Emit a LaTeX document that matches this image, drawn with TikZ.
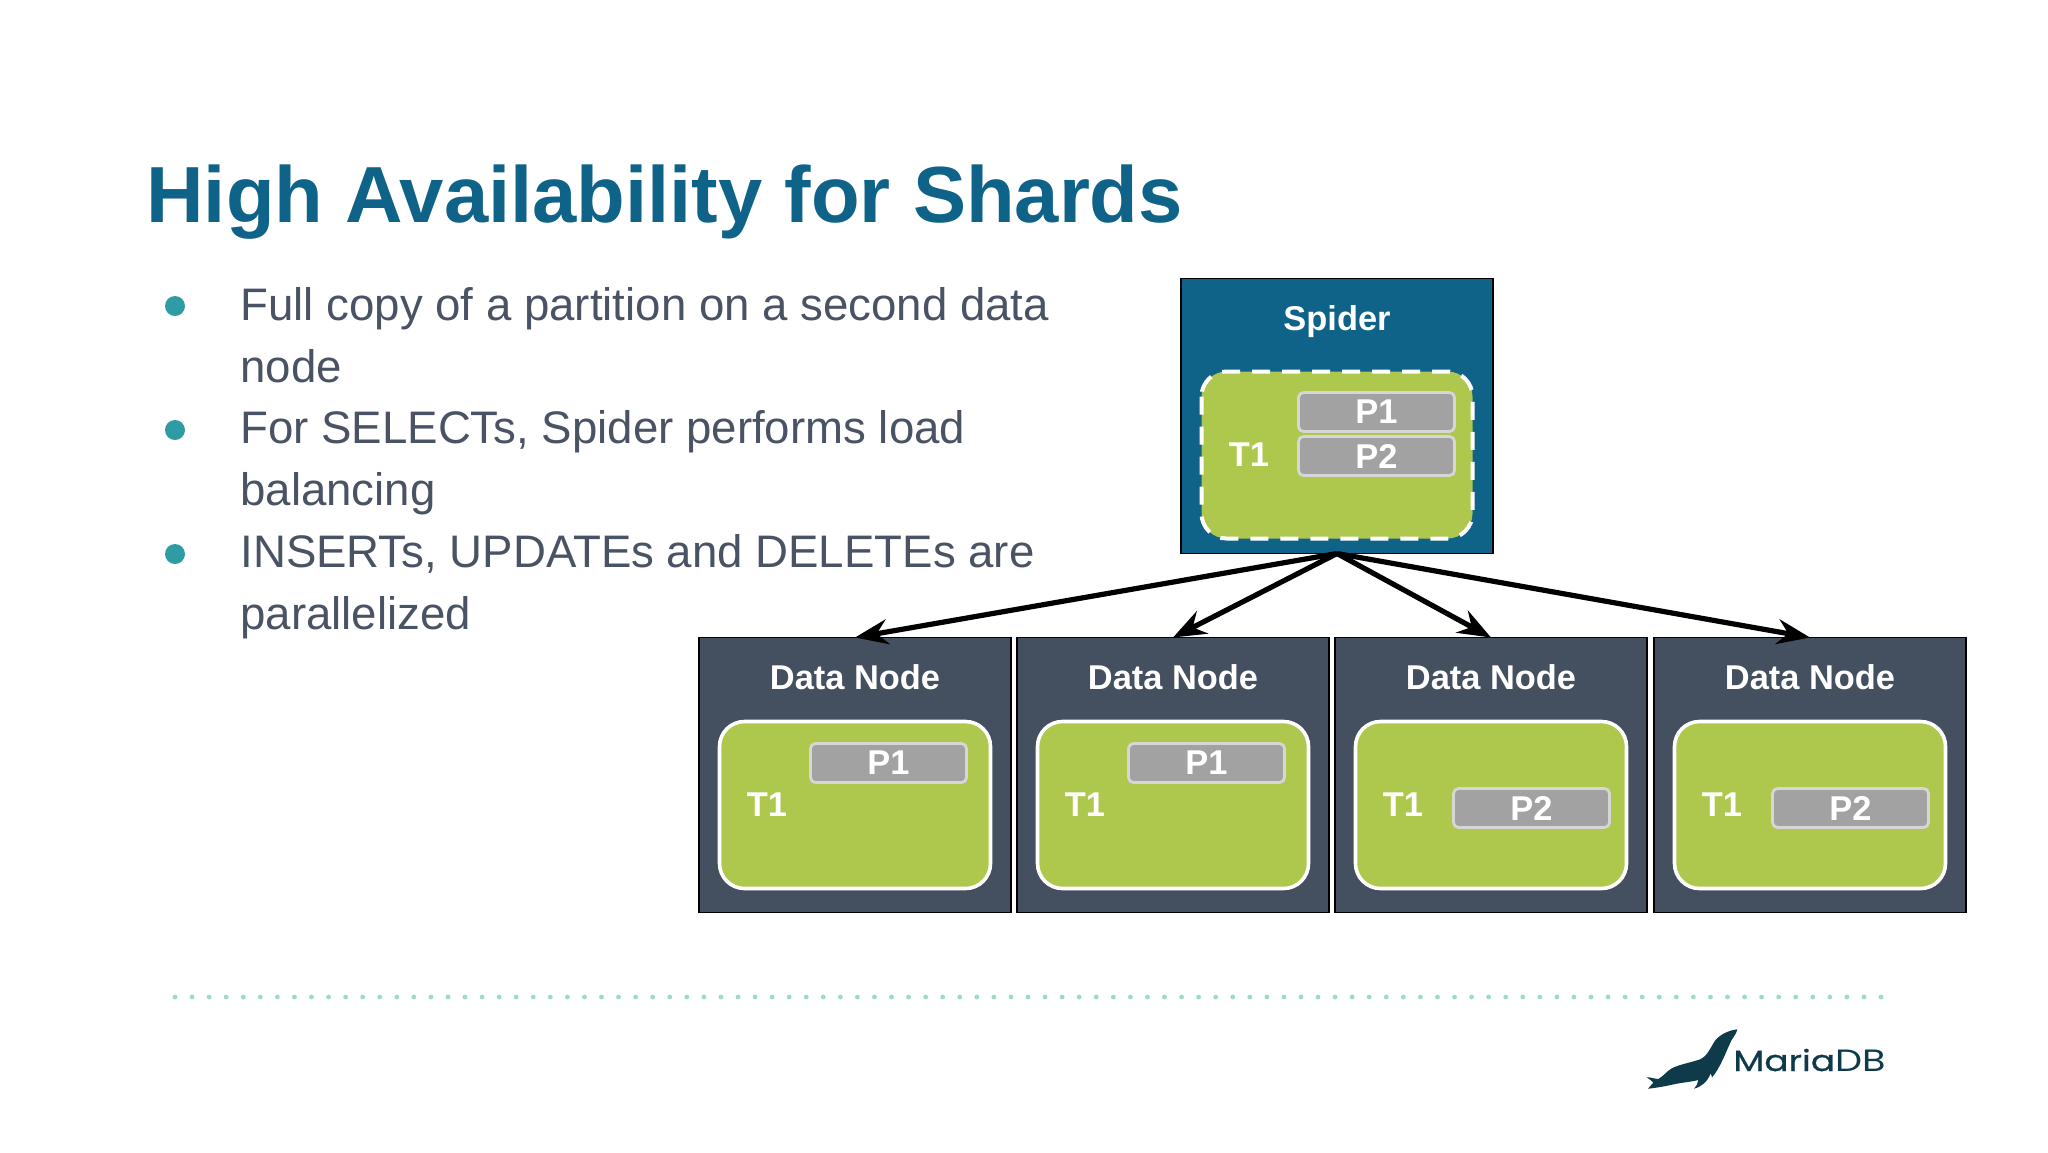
\documentclass[tikz,border=0pt]{standalone}
\usepackage{fontspec}
\setmainfont{Liberation Sans}
\newfontfamily\logofont{Poppins}[FakeStretch=1.24]
\newfontfamily\logoboldfont{Poppins}[FakeStretch=1.23, FakeBold=0.8]
\usetikzlibrary{positioning,arrows.meta}
\definecolor{titleblue}{HTML}{0F6388}
\definecolor{bodygrey}{HTML}{4A5364}
\definecolor{bulletteal}{HTML}{2F9BA5}
\definecolor{dotgreen}{HTML}{9ADCCB}
\definecolor{datagrey}{HTML}{44505F}
\definecolor{tablegreen}{HTML}{AEC84E}
\definecolor{partgrey}{HTML}{A2A2A2}
\definecolor{partedge}{HTML}{D6D6D6}
\definecolor{sealdark}{HTML}{0F3A4A}
\tikzset{
    dataNode/.style={draw=black, fill=datagrey, line width=0.8pt, outer sep=0pt,
        minimum width=156pt, minimum height=137.5pt},
    spiderNode/.style={dataNode, fill=titleblue},
    boxLabel/.style={text=white, inner sep=0pt, font=\bfseries\fontsize{17.2}{20}\selectfont},
    tableNode/.style={draw=white, fill=tablegreen, line width=1.8pt, rounded corners=12.5pt,
        outer sep=0pt, minimum width=135.5pt, minimum height=83.5pt},
    partNode/.style={boxLabel, draw=partedge, fill=partgrey, line width=1.4pt, rounded corners=2.5pt,
        outer sep=0pt, minimum width=78pt, minimum height=19.5pt},
    itemText/.style={text=bodygrey, inner sep=0pt, align=left, anchor=north west,
        font=\fontsize{22.8}{31}\selectfont},
    bullet/.style={circle, fill=bulletteal, inner sep=0pt, minimum size=10pt},
}
\begin{document}
\begin{tikzpicture}[x=0.5pt, y=-0.5pt]
    \useasboundingbox[fill=white] (0,0) rectangle (2048,1152);

    \node[text=titleblue, inner sep=0pt, anchor=base west, font=\bfseries\fontsize{39.8}{44}\selectfont]
        (title) at (146,222) {High Availability for Shards};

    \node[bullet] (b1) at (175,306) {};
    \node[bullet] (b2) at (175,430) {};
    \node[bullet] (b3) at (175,554) {};
    \node[itemText] (item1) at (240,287) {Full copy of a partition on a second data\\node};
    \node[itemText] (item2) at (240,410) {For SELECTs, Spider performs load\\balancing};
    \node[itemText] (item3) at (240,534) {INSERTs, UPDATEs and DELETEs are\\parallelized};

    % top box
    \node[spiderNode] (spider) at (1337,416) {};
    \node[boxLabel, below=13.5pt of spider.north] (spiderlabel) {Spider};
    \node[tableNode, draw=none, below=46.5pt of spider.north] (t0) {};
    \draw[white, line width=2pt, rounded corners=12.5pt, dash pattern=on 9pt off 6pt]
        (t0.north west) rectangle (t0.south east);
    \node[boxLabel, right=13.5pt of t0.west] (t0label) {T1};
    \node[partNode, below left=10.5pt and 9pt of t0.north east] (p01) {P1};
    \node[partNode, below=2.5pt of p01] (p02) {P2};

    % data nodes
    \node[dataNode] (dn1) at (855,775) {};
    \node[dataNode, right=3pt of dn1] (dn2) {};
    \node[dataNode, right=3pt of dn2] (dn3) {};
    \node[dataNode, right=3.5pt of dn3] (dn4) {};

    \node[boxLabel, below=13.5pt of dn1.north] (dn1label) {Data Node};
    \node[boxLabel, below=13.5pt of dn2.north] (dn2label) {Data Node};
    \node[boxLabel, below=13.5pt of dn3.north] (dn3label) {Data Node};
    \node[boxLabel, below=13.5pt of dn4.north] (dn4label) {Data Node};

    \node[tableNode, below=42pt of dn1.north] (t1) {};
    \node[tableNode, below=42pt of dn2.north] (t2) {};
    \node[tableNode, below=42pt of dn3.north] (t3) {};
    \node[tableNode, below=42pt of dn4.north] (t4) {};

    \node[boxLabel, right=13.5pt of t1.west] (t1label) {T1};
    \node[boxLabel, right=13.5pt of t2.west] (t2label) {T1};
    \node[boxLabel, right=13.5pt of t3.west] (t3label) {T1};
    \node[boxLabel, right=13.5pt of t4.west] (t4label) {T1};

    \node[partNode, below left=11pt and 12pt of t1.north east] (p1) {P1};
    \node[partNode, below left=11pt and 12pt of t2.north east] (p2) {P1};
    \node[partNode, below left=33.5pt and 8.5pt of t3.north east] (p3) {P2};
    \node[partNode, below left=33.5pt and 8.5pt of t4.north east] (p4) {P2};

    \path[-{Stealth[length=16.5pt, width=12.5pt, inset=5.5pt]}, line width=2.6pt]
    (spider.south) edge (dn1.north)
                   edge (dn2.north)
                   edge (dn3.north)
                   edge (dn4.north);

    \coordinate (dotstart) at (175,997);
    \coordinate (dotend) at (1890,997);
    \draw[dotgreen, line width=2.4pt, line cap=round, dash pattern=on 0pt off 8.53pt] (dotstart) -- (dotend);

    % logo
    \begin{scope}[shift={(1620,980)}, x=0.1667pt, y=-0.1667pt]
        \fill[sealdark] (352,148) .. controls (330,150) and (300,162) .. (285,182)
            .. controls (270,205) and (262,228) .. (240,238)
            .. controls (205,250) and (165,255) .. (145,272)
            .. controls (130,285) and (125,292) .. (115,297)
            .. controls (105,297) and (92,291) .. (80,292)
            .. controls (90,300) and (98,302) .. (100,308)
            .. controls (95,314) and (88,320) .. (84,326)
            .. controls (105,324) and (140,318) .. (165,312)
            .. controls (185,308) and (215,305) .. (235,300)
            .. controls (235,310) and (228,318) .. (222,326)
            .. controls (245,320) and (262,305) .. (272,280)
            .. controls (275,284) and (276,288) .. (276,292)
            .. controls (300,265) and (318,215) .. (330,190)
            .. controls (335,175) and (348,165) .. (352,148) -- cycle;
    \end{scope}
    \node[text=sealdark, inner sep=0pt, anchor=base west, font=\logoboldfont\fontsize{14.6}{16}\selectfont]
        (logotext) at (1733,1071) {Maria};
    \node[text=sealdark, inner sep=0pt, anchor=base east, font=\logofont\fontsize{15.4}{16}\selectfont]
        (logodb) at (1886,1071) {DB};
\end{tikzpicture}
\end{document}
